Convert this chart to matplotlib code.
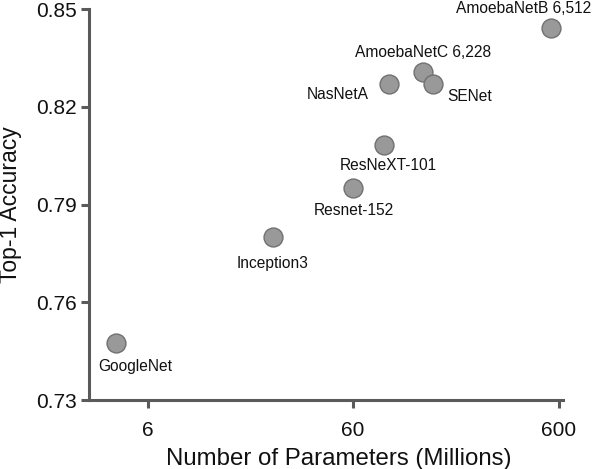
import matplotlib
matplotlib.use("Agg")
import matplotlib.pyplot as plt
from matplotlib.ticker import FixedLocator, NullLocator, FixedFormatter

plt.rcParams['font.family'] = ['Liberation Sans', 'DejaVu Sans']

# values
models = ['GoogleNet', 'Inception3', 'Resnet-152', 'ResNeXT-101',
          'NasNetA', 'AmoebaNetC 6,228', 'SENet', 'AmoebaNetB 6,512']
params_m = [4.21, 24.35, 60.1, 85.0, 89.9, 131.6, 147.2, 552.5]
top1 = [0.7474, 0.780, 0.7952, 0.8083, 0.8271, 0.8308, 0.8271, 0.8442]

# label offsets in pixels from each point (dx, dy)
offsets = [(19, -23), (0, -26), (1, -23), (4, -20),
           (-51, -11), (0, 19), (36, -13), (-28, 20)]

xticks = [6, 60, 600]
yticks = [0.73, 0.76, 0.79, 0.82, 0.85]

spine_col = '#5a5a5a'

fig = plt.figure(figsize=(5.96, 4.69), dpi=100)
ax = fig.add_axes([0.1493, 0.1471, 0.7953, 0.8331])

ax.scatter(params_m, top1, s=185, facecolor='#999999', edgecolor='#707070',
           linewidth=1.0, zorder=3)

for name, x, y, (dx, dy) in zip(models, params_m, top1, offsets):
    ax.annotate(name, (x, y), xytext=(dx, dy), textcoords='offset pixels',
                ha='center', va='center', fontsize=11.2, color='#111111')

ax.set_xscale('log')
ax.set_xlim(3.11, 630)
ax.set_ylim(0.73, 0.85)
ax.xaxis.set_major_locator(FixedLocator(xticks))
ax.xaxis.set_major_formatter(FixedFormatter([str(t) for t in xticks]))
ax.xaxis.set_minor_locator(NullLocator())
ax.set_yticks(yticks)
ax.set_yticklabels([f'{t:.2f}' for t in yticks])

for side in ['top', 'right']:
    ax.spines[side].set_visible(False)
for side in ['left', 'bottom']:
    ax.spines[side].set_color(spine_col)
    ax.spines[side].set_linewidth(2.2)

ax.tick_params(axis='both', which='major', length=6, width=2.2,
               color=spine_col, labelsize=15, labelcolor='#111111')
ax.tick_params(axis='x', pad=9)
ax.tick_params(axis='y', pad=3)

ax.set_xlabel('Number of Parameters (Millions)', fontsize=17.3, color='#111111', labelpad=6)
ax.xaxis.label.set_x(0.527)
ax.set_ylabel('Top-1 Accuracy', fontsize=16.5, color='#111111', labelpad=10)

fig.savefig('out.png', dpi=100)
